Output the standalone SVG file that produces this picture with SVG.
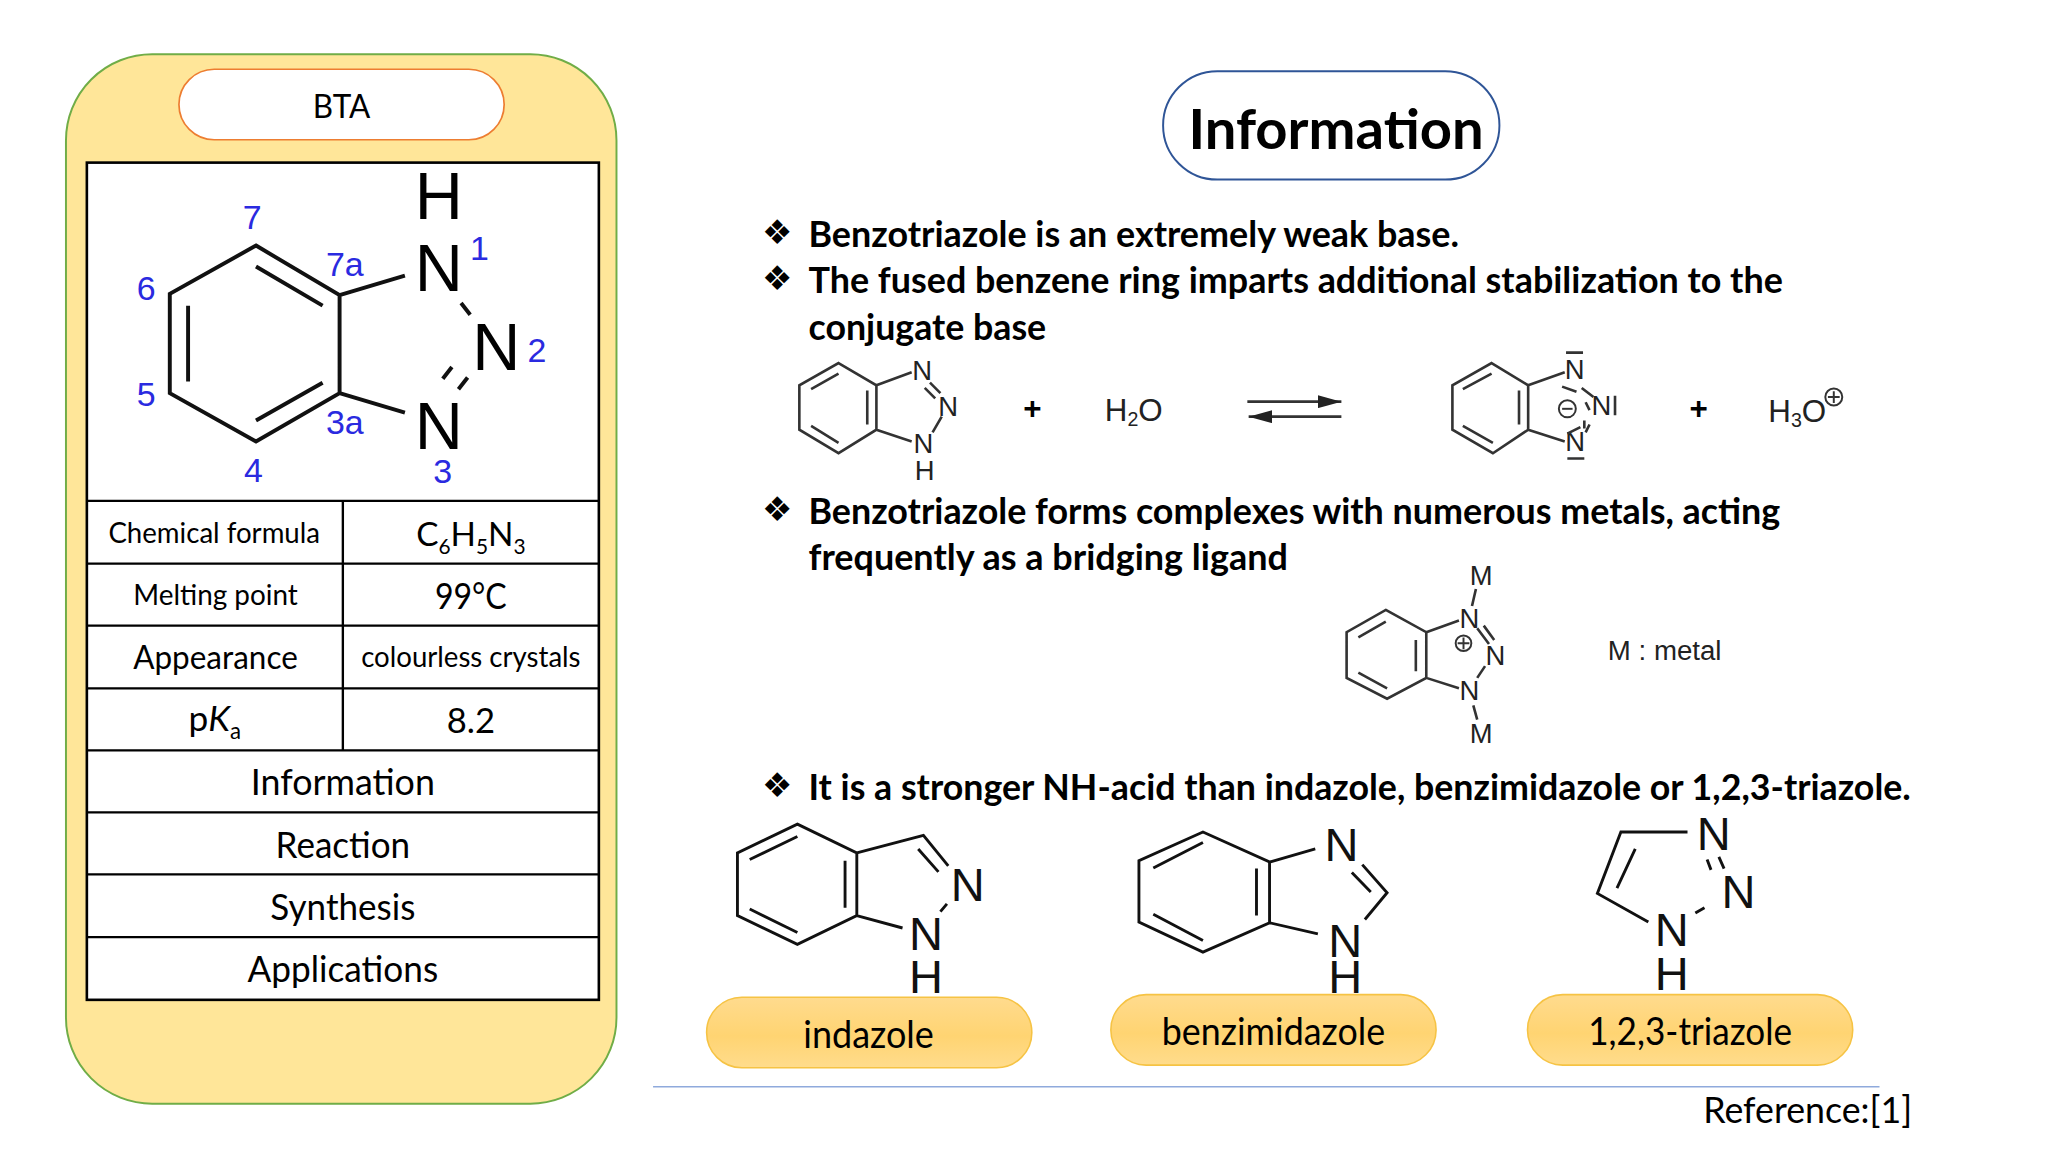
<svg xmlns="http://www.w3.org/2000/svg" width="2048" height="1152" viewBox="0 0 2048 1152">
<style>
text{font-family:"Lato","Carlito","Noto Sans",sans-serif;fill:#000}
.c{text-anchor:middle}
.b{font-weight:700;font-size:28px}
.t{font-size:28px}
.s{font-size:22px}
.a{font-family:"Liberation Sans",Arial,sans-serif;text-anchor:middle}
.lbl{fill:#2a2ae0;font-size:26px}
.m1{font-size:21px;fill:#222}
.m2{font-size:36px;fill:#111}
.bond{stroke:#111;stroke-width:2.6;fill:none}
.thin{stroke:#333;stroke-width:2;fill:none;stroke-linejoin:miter}
.gr{stroke:#333;stroke-width:1.5;fill:none}
.rule{stroke:#000;stroke-width:1.8;fill:none}
.pill{fill:url(#pg);stroke:#F6C344;stroke-width:1.2}
.bul{font-family:"DejaVu Sans",sans-serif;font-size:26px;text-anchor:middle}
</style>
<defs>
<linearGradient id="pg" x1="0" y1="0" x2="0" y2="1"><stop offset="0" stop-color="#FFDB8E"/><stop offset=".55" stop-color="#FFD472"/><stop offset="1" stop-color="#FFDC8C"/></linearGradient>
<marker id="ah2" markerWidth="20" markerHeight="10" refX="18" refY="5" orient="auto" markerUnits="userSpaceOnUse"><path d="M0 0L18 5L0 10Z" fill="#222"/></marker>
</defs>
<rect width="2048" height="1152" fill="#fff"/>
<g transform="scale(1.30612)">
<g id="panel">
<rect x="50.5" y="41.5" width="421.5" height="803.5" rx="66" fill="#FFE699" stroke="#70AD47" stroke-width="1.5"/>
<rect x="137" y="53" width="249" height="54" rx="27" fill="#fff" stroke="#ED7D31" stroke-width="1.3"/>
<text class="c" x="261.5" y="90" font-size="25" textLength="44" lengthAdjust="spacingAndGlyphs">BTA</text>
</g>
<g id="table">
<rect x="66.5" y="124.5" width="392" height="641" fill="#fff" stroke="#000" stroke-width="2"/>
<path class="rule" d="M66 383.5H458M66 431.5H458M66 479H458M66 527H458M66 574.5H458M66 622H458M66 669.5H458M66 717.5H458M262.5 383.5V574.5"/>
<text class="c s" x="164" y="415.5" textLength="162" lengthAdjust="spacingAndGlyphs">Chemical formula</text>
<text class="c s" x="165" y="463.5" textLength="126" lengthAdjust="spacingAndGlyphs">Melting point</text>
<text class="c" x="165" y="512" font-size="25" textLength="126" lengthAdjust="spacingAndGlyphs">Appearance</text>
<text class="c" x="164.5" y="560" font-size="27">p<tspan font-style="italic">K</tspan><tspan font-size="17" dy="6">a</tspan></text>
<text class="c" x="360.5" y="418" font-size="25.5">C<tspan font-size="16" dy="6">6</tspan><tspan dy="-6">H</tspan><tspan font-size="16" dy="6">5</tspan><tspan dy="-6">N</tspan><tspan font-size="16" dy="6">3</tspan></text>
<text class="c" x="360.5" y="466" font-size="28" textLength="55" lengthAdjust="spacingAndGlyphs">99°C</text>
<text class="c s" x="360.5" y="511" textLength="168" lengthAdjust="spacingAndGlyphs">colourless crystals</text>
<text class="c" x="360.5" y="561" font-size="27" textLength="37" lengthAdjust="spacingAndGlyphs">8.2</text>
<text class="c t" x="262.5" y="609" textLength="141" lengthAdjust="spacingAndGlyphs">Information</text>
<text class="c t" x="262.5" y="657" textLength="103" lengthAdjust="spacingAndGlyphs">Reaction</text>
<text class="c t" x="262.5" y="704" textLength="111" lengthAdjust="spacingAndGlyphs">Synthesis</text>
<text class="c t" x="262.5" y="752" textLength="146" lengthAdjust="spacingAndGlyphs">Applications</text>
</g>
<g id="bta-structure">
<path class="bond" d="M196 188L260 226V301L196 338L130 301V225ZM196 204L247 234M144 234V292M247 293L196 322M260 226L310 211M260 301L310 316M353 232L360 241M346 281L339 290M358 289L351 298" style="stroke-width:3"/>
<text class="a" font-size="51" x="336" y="168">H</text><text class="a" font-size="51" x="336" y="223">N</text><text class="a" font-size="51" x="380" y="283">N</text><text class="a" font-size="51" x="336" y="344">N</text>
<text class="a lbl" x="193" y="175">7</text><text class="a lbl" x="112" y="230">6</text><text class="a lbl" x="112" y="311">5</text><text class="a lbl" x="194" y="369">4</text><text class="a lbl" x="339" y="370">3</text><text class="a lbl" x="264" y="211">7a</text><text class="a lbl" x="264" y="332">3a</text><text class="a lbl" x="367" y="199">1</text><text class="a lbl" x="411" y="277">2</text>
</g>
<g id="information-title">
<rect x="890.5" y="54.5" width="257.5" height="83" rx="41.5" fill="#fff" stroke="#2F5597" stroke-width="1.5"/>
<text class="c" x="1023" y="114" font-size="42" font-weight="700" textLength="226" lengthAdjust="spacingAndGlyphs">Information</text>
</g>
<g id="bullets">
<text class="bul" x="595" y="187">❖</text>
<text class="b" x="619" y="189" textLength="498" lengthAdjust="spacingAndGlyphs">Benzotriazole is an extremely weak base.</text>
<text class="bul" x="595" y="222">❖</text>
<text class="b" x="619" y="224" textLength="746" lengthAdjust="spacingAndGlyphs">The fused benzene ring imparts additional stabilization to the</text>
<text class="b" x="619" y="260" textLength="182" lengthAdjust="spacingAndGlyphs">conjugate base</text>
<text class="bul" x="595" y="399">❖</text>
<text class="b" x="619" y="401" textLength="744" lengthAdjust="spacingAndGlyphs">Benzotriazole forms complexes with numerous metals, acting</text>
<text class="b" x="619" y="436.5" textLength="367" lengthAdjust="spacingAndGlyphs">frequently as a bridging ligand</text>
<text class="bul" x="595" y="610">❖</text>
<text class="b" x="619" y="612.5" textLength="844" lengthAdjust="spacingAndGlyphs">It is a stronger NH-acid than indazole, benzimidazole or 1,2,3-triazole.</text>
</g>
<g id="reactant-bta">
<path class="thin" d="M642 278L671 295V329L642 347L612 329V295ZM642 286L621 298M621 326L642 339M664 299V325M671 295L698 285M671 329L698 338M712 293L720 301M708 297L716 305M721 319L714 331"/>
<text class="a m1" x="706" y="291">N</text><text class="a m1" x="726" y="318.5">N</text><text class="a m1" x="707" y="347">N</text><text class="a m1" x="708" y="367.5">H</text>
</g>
<g id="reaction-plain">
<text class="a" font-size="24" font-weight="700" fill="#222" x="790.5" y="321">+</text>
<text class="a m1" font-size="24" style="font-size:24px" x="868" y="322">H<tspan style="font-size:15px" dy="4">2</tspan><tspan dy="-4">O</tspan></text>
<text class="a" font-size="24" font-weight="700" fill="#222" x="1300.5" y="321">+</text>
<text class="a m1" style="font-size:24px" x="1376" y="323">H<tspan style="font-size:15px" dy="4">3</tspan><tspan dy="-4">O</tspan></text>
<circle class="gr" cx="1404" cy="304" r="6.5"/><path class="gr" d="M1399.5 304H1408.5M1404 299.5V308.5"/>
</g>
<g id="connectors">
<line class="thin" x1="955" y1="307.5" x2="1027" y2="307.5" marker-end="url(#ah2)"/>
<line class="thin" x1="1027" y1="319" x2="956" y2="319" marker-end="url(#ah2)"/>
</g>
<g id="anion">
<path class="thin" d="M1142 278L1170 295V329L1143 347L1112 329V295ZM1142 286L1120 298M1120 326L1143 339M1163 299V325M1170 295L1198 285M1170 329L1198 338"/>
<text class="a m1" x="1205.5" y="290">N</text><text class="a m1" x="1206" y="345">N</text><text class="a m1" x="1226" y="318">N</text>
<path class="thin" d="M1199 270H1212M1200 351H1213M1236.5 303V318M1196 296L1207 300M1211 297L1220 304M1214 308L1217 314M1213 322V328M1200 332L1210 327M1217 325L1214 331"/>
<circle class="gr" cx="1200" cy="313" r="6.5"/><path class="gr" d="M1196 313H1204"/>
</g>
<g id="metal-complex">
<path class="thin" d="M1061 467L1092 484V519L1062 535L1031 519V484ZM1061 476L1040 488M1040 515L1062 527M1084 490V514M1092 484L1117 475M1092 519L1117 527M1130 451L1127 464M1131 481L1140 493M1136 479L1144 490M1137 510L1131 519M1128 540L1131 551"/>
<text class="a m1" x="1134" y="448">M</text><text class="a m1" x="1125" y="481">N</text><text class="a m1" x="1145" y="509">N</text><text class="a m1" x="1125" y="536">N</text><text class="a m1" x="1134" y="569">M</text>
<circle class="gr" cx="1120.5" cy="492.5" r="6"/><path class="gr" d="M1116 492.5H1125M1120.5 488V497"/>
<text class="a m1" x="1274.5" y="505" textLength="87" lengthAdjust="spacingAndGlyphs">M :  metal</text>
</g>
<g id="indazole">
<path class="bond" d="M610.5 631L656 653V701L610.5 723L564.6 701V653ZM574 658L610.5 640.5M574 696L610.5 714M647 659V695M656 653L707 639.5L726 663M703 650L718.5 667.5M656 701L691 710.5M720 698L725 692" style="stroke-width:2.2"/>
<text class="a m2" x="741" y="690">N</text><text class="a m2" x="709" y="727">N</text><text class="a m2" x="709" y="760">H</text>
<rect class="pill" x="541" y="763.5" width="249" height="54" rx="27"/>
<text class="c" x="665" y="802" font-size="29" textLength="100" lengthAdjust="spacingAndGlyphs">indazole</text>
</g>
<g id="benzimidazole">
<path class="bond" d="M921 637L972 660V706.5L921 729L872 706V659ZM883 664.5L921 645M883 700L921 720M962 665V701M972 660L1007 650M972 706.5L1009 715M1043 662L1062 683.5L1045 704M1035 668L1049.5 683" style="stroke-linecap:butt;stroke-width:2.2"/>
<text class="a m2" x="1027" y="659">N</text><text class="a m2" x="1030" y="733">N</text><text class="a m2" x="1030" y="760">H</text>
<rect class="pill" x="850.5" y="761.5" width="249" height="54" rx="27"/>
<text class="c" x="975" y="800" font-size="29" textLength="171" lengthAdjust="spacingAndGlyphs">benzimidazole</text>
</g>
<g id="triazole">
<path class="bond" d="M1292 637H1241L1223 684L1262 706M1252 650L1238 680M1307 658L1310 666M1316 656L1320 665M1298 699L1305 695" style="stroke-width:2.2"/>
<text class="a m2" x="1312" y="651">N</text><text class="a m2" x="1331" y="695">N</text><text class="a m2" x="1280" y="724">N</text><text class="a m2" x="1280" y="758">H</text>
<rect class="pill" x="1169.5" y="761.5" width="249" height="54" rx="27"/>
<text class="c" x="1294" y="800" font-size="29" textLength="156" lengthAdjust="spacingAndGlyphs">1,2,3-triazole</text>
</g>
<g id="footer">
<line x1="500" y1="832" x2="1439" y2="832" stroke="#8FAADC" stroke-width="1.2"/>
<text x="1304" y="860" font-size="28" textLength="160" lengthAdjust="spacingAndGlyphs">Reference:[1]</text>
</g>
</g>
</svg>
